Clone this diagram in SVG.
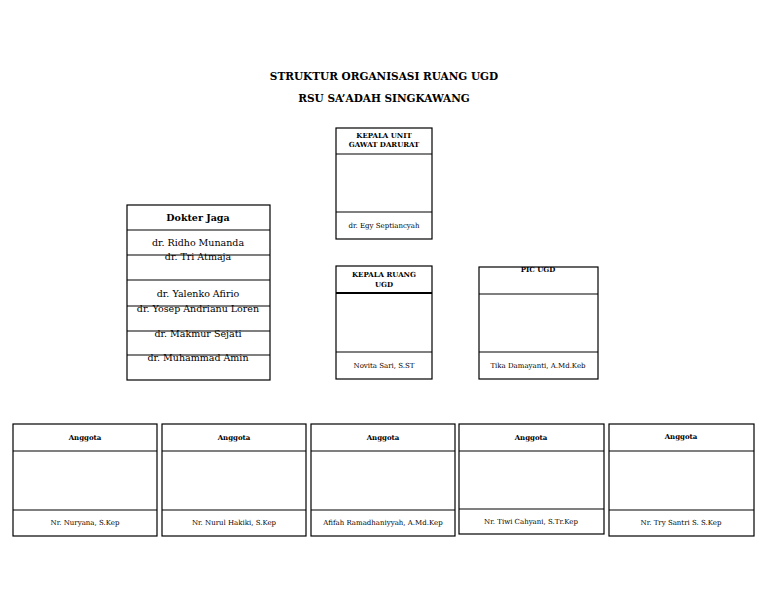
<svg xmlns="http://www.w3.org/2000/svg" width="768" height="594" viewBox="0 0 768 594">
<style>
rect{fill:#fff;stroke:#000;stroke-width:1.2}
line{stroke:#000;stroke-width:1.2}
text{font-family:"DejaVu Serif","Liberation Serif",serif;fill:#000;text-anchor:middle}
.t{font-size:10.5px;font-weight:bold}
.h{font-size:7px;font-weight:bold}
.s{font-size:7px}
.d{font-size:9.5px}
.dh{font-size:9.5px;font-weight:bold}
</style>
<rect x="0" y="0" width="768" height="594" style="stroke:none"/>
<text class="t" x="384" y="80">STRUKTUR ORGANISASI RUANG UGD</text>
<text class="t" x="384" y="102">RSU SA’ADAH SINGKAWANG</text>
<g id="kepala-unit">
<rect x="336" y="128" width="96" height="111"/>
<line x1="336" y1="154" x2="432" y2="154"/><line x1="336" y1="212" x2="432" y2="212"/>
<text class="h" x="384" y="138">KEPALA UNIT</text>
<text class="h" x="384" y="147">GAWAT DARURAT</text>
<text class="s" x="384" y="228">dr. Egy Septiancyah</text>
</g>
<g id="dokter-jaga">
<rect x="127" y="205" width="143" height="175"/>
<line x1="127" y1="230" x2="270" y2="230"/><line x1="127" y1="255" x2="270" y2="255"/>
<line x1="127" y1="280" x2="270" y2="280"/><line x1="127" y1="306" x2="270" y2="306"/>
<line x1="127" y1="331" x2="270" y2="331"/><line x1="127" y1="355" x2="270" y2="355"/>
<text class="dh" x="198" y="221">Dokter Jaga</text>
<text class="d" x="198" y="246">dr. Ridho Munanda</text>
<text class="d" x="198" y="260">dr. Tri Atmaja</text>
<text class="d" x="198" y="297">dr. Yalenko Afirio</text>
<text class="d" x="198" y="312">dr. Yosep Andrianu Loren</text>
<text class="d" x="198" y="337">dr. Makmur Sejati</text>
<text class="d" x="198" y="361">dr. Muhammad Amin</text>
</g>
<g id="kepala-ruang">
<rect x="336" y="266" width="96" height="113"/>
<line x1="336" y1="293" x2="432" y2="293" style="stroke-width:2"/><line x1="336" y1="352" x2="432" y2="352"/>
<text class="h" x="384" y="277">KEPALA RUANG</text>
<text class="h" x="384" y="287">UGD</text>
<text class="s" x="384" y="368">Novita Sari, S.ST</text>
</g>
<g id="pic-ugd">
<rect x="479" y="267" width="119" height="112"/>
<line x1="479" y1="294" x2="598" y2="294"/><line x1="479" y1="352" x2="598" y2="352"/>
<text class="h" x="538" y="272">PIC UGD</text>
<text class="s" x="538" y="368">Tika Damayanti, A.Md.Keb</text>
</g>
<g id="anggota1"><rect x="13" y="424" width="144" height="112"/><line x1="13" y1="451" x2="157" y2="451"/><line x1="13" y1="510" x2="157" y2="510"/>
<text class="h" x="85" y="440">Anggota</text><text class="s" x="85" y="525">Nr. Nuryana, S.Kep</text></g>
<g id="anggota2"><rect x="162" y="424" width="144" height="112"/><line x1="162" y1="451" x2="306" y2="451"/><line x1="162" y1="510" x2="306" y2="510"/>
<text class="h" x="234" y="440">Anggota</text><text class="s" x="234" y="525">Nr. Nurul Hakiki, S.Kep</text></g>
<g id="anggota3"><rect x="311" y="424" width="144" height="112"/><line x1="311" y1="451" x2="455" y2="451"/><line x1="311" y1="510" x2="455" y2="510"/>
<text class="h" x="383" y="440">Anggota</text><text class="s" x="383" y="525">Afifah Ramadhaniyyah, A.Md.Kep</text></g>
<g id="anggota4"><rect x="459" y="424" width="145" height="110"/><line x1="459" y1="451" x2="604" y2="451"/><line x1="459" y1="509" x2="604" y2="509"/>
<text class="h" x="531" y="440">Anggota</text><text class="s" x="531" y="524">Nr. Tiwi Cahyani, S.Tr.Kep</text></g>
<g id="anggota5"><rect x="609" y="424" width="145" height="112"/><line x1="609" y1="451" x2="754" y2="451"/><line x1="609" y1="510" x2="754" y2="510"/>
<text class="h" x="681" y="439">Anggota</text><text class="s" x="681" y="525">Nr. Try Santri S. S.Kep</text></g>
<g id="connectors"/>
</svg>
